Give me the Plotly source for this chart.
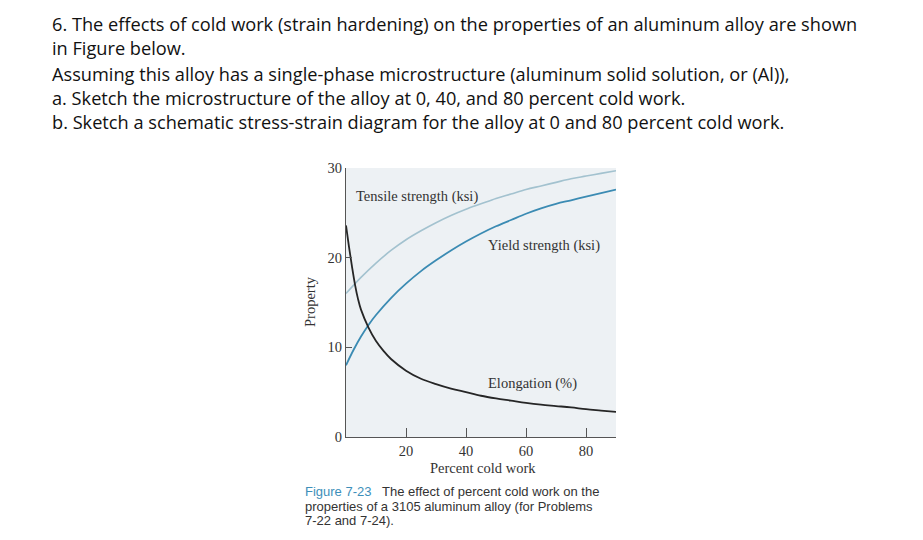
import plotly.graph_objects as go

# ---------------- data ----------------
tensile_x = [0, 5, 10, 15, 20, 25, 30, 35, 40, 45, 50, 55, 60, 65, 70, 75, 80, 85, 90]
tensile_y = [16.0, 17.8, 19.4, 20.8, 22.0, 23.0, 23.9, 24.7, 25.4, 26.0, 26.6, 27.1, 27.6, 28.0, 28.4, 28.8, 29.1, 29.4, 29.7]

yield_x = [0, 2.5, 5, 7.5, 10, 15, 20, 25, 30, 35, 40, 45, 50, 55, 60, 65, 70, 75, 80, 85, 90]
yield_y = [8.0, 9.7, 11.2, 12.5, 13.6, 15.5, 17.1, 18.5, 19.7, 20.8, 21.8, 22.7, 23.5, 24.2, 24.9, 25.5, 26.0, 26.4, 26.8, 27.2, 27.6]

elong_x = [0, 1, 2, 3, 4, 5, 7.5, 10, 12.5, 15, 20, 25, 30, 35, 40, 45, 50, 55, 60, 65, 70, 75, 80, 85, 90]
elong_y = [23.6, 21.2, 19.0, 17.0, 15.4, 14.2, 12.2, 10.7, 9.6, 8.7, 7.4, 6.5, 5.9, 5.4, 5.0, 4.6, 4.3, 4.05, 3.8, 3.6, 3.45, 3.3, 3.1, 2.95, 2.8]

x_ticks = [20, 40, 60, 80]
y_ticks = [0, 10, 20, 30]

question_lines = [
    "6. The effects of cold work (strain hardening) on the properties of an aluminum alloy are shown",
    "in Figure below.",
    "Assuming this alloy has a single-phase microstructure (aluminum solid solution, or (Al)),",
    "a. Sketch the microstructure of the alloy at 0, 40, and 80 percent cold work.",
    "b. Sketch a schematic stress-strain diagram for the alloy at 0 and 80 percent cold work.",
]
caption_lines = [
    '<span style="color:#3d8fba">Figure 7-23</span>   The effect of percent cold work on the',
    "properties of a 3105 aluminum alloy (for Problems",
    "7-22 and 7-24).",
]

# ---------------- layout helpers ----------------
W, H = 923, 540
OFF = 8  # default page body margin
L, R, T, B = 346, 616, 168, 437


def px(x):
    return (x - L) / (R - L)


def py(y):
    return (B - y) / (B - T)


fig = go.Figure()
fig.add_trace(go.Scatter(x=tensile_x, y=tensile_y, mode="lines",
                         line=dict(color="#a3c2cf", width=1.6, shape="spline"),
                         showlegend=False))
fig.add_trace(go.Scatter(x=yield_x, y=yield_y, mode="lines",
                         line=dict(color="#3b8bb3", width=1.8, shape="spline"),
                         showlegend=False))
fig.add_trace(go.Scatter(x=elong_x, y=elong_y, mode="lines",
                         line=dict(color="#262626", width=1.8, shape="spline"),
                         showlegend=False))

serif = "Liberation Serif"
sfont = dict(family=serif, size=14.5, color="#333333")

annotations = []
q_centers = [24, 48, 74, 98, 122]
for t, yc in zip(question_lines, q_centers):
    annotations.append(dict(text=t, x=px(50), y=py(yc), xref="paper", yref="paper",
                            xanchor="left", yanchor="middle", showarrow=False,
                            font=dict(family="Open Sans", size=18.2, color="#111111")))

c_centers = [492, 506, 520]
for t, yc in zip(caption_lines, c_centers):
    annotations.append(dict(text=t, x=px(303), y=py(yc), xref="paper", yref="paper",
                            xanchor="left", yanchor="middle", showarrow=False,
                            font=dict(family="Liberation Sans", size=13, color="#333333")))


def label(text, x, y, angle=0):
    annotations.append(dict(text=text, x=px(x), y=py(y), xref="paper", yref="paper",
                            xanchor="center", yanchor="middle", showarrow=False,
                            textangle=angle, font=sfont))


label("Tensile strength (ksi)", 417, 196)
label("Yield strength (ksi)", 544, 245)
label("Elongation (%)", 532, 383)
label("Percent cold work", 483, 468)
label("Property", 310, 302, -90)

fig.update_layout(
    width=W - OFF, height=H - OFF,
    margin=dict(l=L - OFF, r=W - R, t=T - OFF, b=H - B, pad=0),
    paper_bgcolor="white",
    plot_bgcolor="#edf1f4",
    annotations=annotations,
    xaxis=dict(range=[0, 90], tickvals=x_ticks, ticks="inside", ticklen=9, tickcolor="#555555",
               showline=True, linecolor="#555555", linewidth=1.2, showgrid=False, zeroline=False,
               tickfont=sfont),
    yaxis=dict(range=[0, 30], tickvals=y_ticks, ticks="inside", ticklen=6, tickcolor="#555555",
               showline=True, linecolor="#555555", linewidth=1.2, showgrid=False, zeroline=False,
               tickfont=sfont),
)

fig.write_html("out.html")
